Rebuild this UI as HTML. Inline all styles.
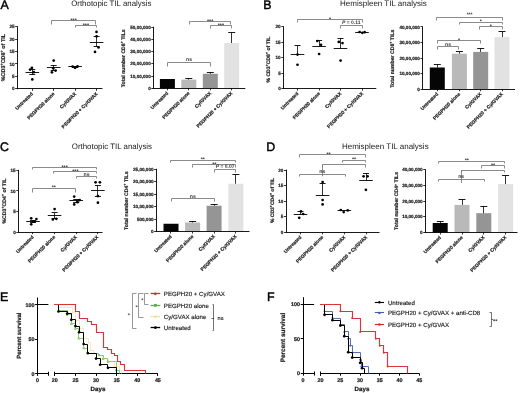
<!DOCTYPE html>
<html><head><meta charset="utf-8"><title>Figure</title>
<style>
html,body{margin:0;padding:0;background:#fff;}
svg{display:block;font-family:'Liberation Sans', Arial, sans-serif;text-rendering:geometricPrecision;}
</style></head>
<body>
<svg width="520" height="393" viewBox="0 0 520 393">
<rect width="520" height="393" fill="#fff"/>
<text x="0.55" y="9.45" font-size="12.4" font-weight="normal" text-anchor="start" fill="#000" stroke="#000" stroke-width="0.45">A</text>
<text x="263.30" y="9.30" font-size="12.4" font-weight="normal" text-anchor="start" fill="#000" stroke="#000" stroke-width="0.45">B</text>
<text x="0.00" y="151.00" font-size="12.4" font-weight="normal" text-anchor="start" fill="#000" stroke="#000" stroke-width="0.45">C</text>
<text x="266.20" y="151.10" font-size="12.4" font-weight="normal" text-anchor="start" fill="#000" stroke="#000" stroke-width="0.45">D</text>
<text x="0.00" y="300.80" font-size="12.4" font-weight="normal" text-anchor="start" fill="#000" stroke="#000" stroke-width="0.45">E</text>
<text x="266.90" y="300.80" font-size="12.4" font-weight="normal" text-anchor="start" fill="#000" stroke="#000" stroke-width="0.45">F</text>
<text x="111.30" y="5.90" font-size="7.9" font-weight="normal" text-anchor="middle" fill="#1a1a1a">Orthotopic TIL analysis</text>
<text x="383.40" y="5.90" font-size="8.0" font-weight="normal" text-anchor="middle" fill="#1a1a1a">Hemispleen TIL analysis</text>
<text x="111.90" y="148.90" font-size="7.9" font-weight="normal" text-anchor="middle" fill="#1a1a1a">Orthotopic TIL analysis</text>
<text x="385.30" y="148.70" font-size="8.0" font-weight="normal" text-anchor="middle" fill="#1a1a1a">Hemispleen TIL analysis</text>
<line x1="17.50" y1="26.20" x2="17.50" y2="89.30" stroke="#000" stroke-width="0.9"/>
<line x1="15.10" y1="88.50" x2="17.30" y2="88.50" stroke="#000" stroke-width="0.8"/>
<text x="14.50" y="90.45" font-size="4.6" font-weight="bold" text-anchor="end" fill="#222" stroke="#222" stroke-width="0.2">0</text>
<line x1="15.10" y1="76.50" x2="17.30" y2="76.50" stroke="#000" stroke-width="0.8"/>
<text x="14.50" y="78.00" font-size="4.6" font-weight="bold" text-anchor="end" fill="#222" stroke="#222" stroke-width="0.2">5</text>
<line x1="15.10" y1="63.50" x2="17.30" y2="63.50" stroke="#000" stroke-width="0.8"/>
<text x="14.50" y="65.55" font-size="4.6" font-weight="bold" text-anchor="end" fill="#222" stroke="#222" stroke-width="0.2">10</text>
<line x1="15.10" y1="51.50" x2="17.30" y2="51.50" stroke="#000" stroke-width="0.8"/>
<text x="14.50" y="53.10" font-size="4.6" font-weight="bold" text-anchor="end" fill="#222" stroke="#222" stroke-width="0.2">15</text>
<line x1="15.10" y1="39.50" x2="17.30" y2="39.50" stroke="#000" stroke-width="0.8"/>
<text x="14.50" y="40.65" font-size="4.6" font-weight="bold" text-anchor="end" fill="#222" stroke="#222" stroke-width="0.2">20</text>
<line x1="15.10" y1="26.50" x2="17.30" y2="26.50" stroke="#000" stroke-width="0.8"/>
<text x="14.50" y="28.20" font-size="4.6" font-weight="bold" text-anchor="end" fill="#222" stroke="#222" stroke-width="0.2">25</text>
<line x1="16.85" y1="88.50" x2="102.50" y2="88.50" stroke="#000" stroke-width="0.9"/>
<line x1="32.50" y1="88.85" x2="32.50" y2="90.85" stroke="#000" stroke-width="0.8"/>
<line x1="53.50" y1="88.85" x2="53.50" y2="90.85" stroke="#000" stroke-width="0.8"/>
<line x1="75.50" y1="88.85" x2="75.50" y2="90.85" stroke="#000" stroke-width="0.8"/>
<line x1="96.50" y1="88.85" x2="96.50" y2="90.85" stroke="#000" stroke-width="0.8"/>
<text x="33.30" y="94.15" font-size="4.85" font-weight="bold" text-anchor="end" fill="#222" transform="rotate(-45 33.30 94.15)" stroke="#222" stroke-width="0.2">Untreated</text>
<text x="55.00" y="94.15" font-size="4.85" font-weight="bold" text-anchor="end" fill="#222" transform="rotate(-45 55.00 94.15)" stroke="#222" stroke-width="0.2">PEGPH20 alone</text>
<text x="76.60" y="94.15" font-size="4.85" font-weight="bold" text-anchor="end" fill="#222" transform="rotate(-45 76.60 94.15)" stroke="#222" stroke-width="0.2">Cy/GVAX</text>
<text x="98.10" y="94.15" font-size="4.85" font-weight="bold" text-anchor="end" fill="#222" transform="rotate(-45 98.10 94.15)" stroke="#222" stroke-width="0.2">PEGPH20 + Cy/GVAX</text>
<text x="4.80" y="57.60" font-size="5.45" font-weight="bold" text-anchor="middle" fill="#222" stroke="#222" stroke-width="0.2" transform="rotate(-90 4.80 57.60)">%CD3<tspan font-size="3.81" dy="-1.91">+</tspan><tspan dy="1.91">CD8</tspan><tspan font-size="3.81" dy="-1.91">+</tspan><tspan dy="1.91"> of TIL</tspan></text>
<circle cx="30.10" cy="69.60" r="1.35" fill="#000"/>
<circle cx="31.90" cy="67.80" r="1.35" fill="#000"/>
<circle cx="33.80" cy="72.20" r="1.35" fill="#000"/>
<circle cx="32.30" cy="79.40" r="1.35" fill="#000"/>
<line x1="25.50" y1="72.50" x2="39.10" y2="72.50" stroke="#000" stroke-width="0.9"/>
<line x1="32.50" y1="69.40" x2="32.50" y2="72.10" stroke="#000" stroke-width="0.8"/>
<line x1="29.30" y1="69.50" x2="35.30" y2="69.50" stroke="#000" stroke-width="0.9"/>
<line x1="32.50" y1="72.10" x2="32.50" y2="75.00" stroke="#000" stroke-width="0.8"/>
<line x1="29.30" y1="74.50" x2="35.30" y2="74.50" stroke="#000" stroke-width="0.9"/>
<circle cx="53.70" cy="60.60" r="1.35" fill="#000"/>
<circle cx="53.20" cy="68.20" r="1.35" fill="#000"/>
<circle cx="51.90" cy="72.30" r="1.35" fill="#000"/>
<circle cx="55.60" cy="70.60" r="1.35" fill="#000"/>
<line x1="46.90" y1="67.50" x2="60.50" y2="67.50" stroke="#000" stroke-width="0.9"/>
<line x1="53.50" y1="65.30" x2="53.50" y2="67.90" stroke="#000" stroke-width="0.8"/>
<line x1="50.70" y1="65.50" x2="56.70" y2="65.50" stroke="#000" stroke-width="0.9"/>
<line x1="53.50" y1="67.90" x2="53.50" y2="70.60" stroke="#000" stroke-width="0.8"/>
<line x1="50.70" y1="70.50" x2="56.70" y2="70.50" stroke="#000" stroke-width="0.9"/>
<circle cx="72.60" cy="66.60" r="1.35" fill="#000"/>
<circle cx="75.10" cy="67.80" r="1.35" fill="#000"/>
<circle cx="77.50" cy="66.40" r="1.35" fill="#000"/>
<line x1="68.30" y1="66.50" x2="81.90" y2="66.50" stroke="#000" stroke-width="0.9"/>
<line x1="75.50" y1="66.00" x2="75.50" y2="66.90" stroke="#000" stroke-width="0.8"/>
<line x1="72.10" y1="66.50" x2="78.10" y2="66.50" stroke="#000" stroke-width="0.9"/>
<line x1="75.50" y1="66.90" x2="75.50" y2="67.80" stroke="#000" stroke-width="0.8"/>
<line x1="72.10" y1="67.50" x2="78.10" y2="67.50" stroke="#000" stroke-width="0.9"/>
<circle cx="96.50" cy="31.90" r="1.35" fill="#000"/>
<circle cx="96.60" cy="36.30" r="1.35" fill="#000"/>
<circle cx="98.50" cy="47.50" r="1.35" fill="#000"/>
<circle cx="95.00" cy="51.90" r="1.35" fill="#000"/>
<line x1="89.80" y1="42.50" x2="103.40" y2="42.50" stroke="#000" stroke-width="0.9"/>
<line x1="96.50" y1="36.90" x2="96.50" y2="42.10" stroke="#000" stroke-width="0.8"/>
<line x1="93.60" y1="36.50" x2="99.60" y2="36.50" stroke="#000" stroke-width="0.9"/>
<line x1="96.50" y1="42.10" x2="96.50" y2="46.90" stroke="#000" stroke-width="0.8"/>
<line x1="93.60" y1="46.50" x2="99.60" y2="46.50" stroke="#000" stroke-width="0.9"/>
<polyline points="51.50,24.50 51.50,20.50 95.50,20.50 95.50,24.50" fill="none" stroke="#767676" stroke-width="0.85"/>
<text x="73.60" y="22.10" font-size="5.4" font-weight="bold" text-anchor="middle" fill="#3a3a3a">***</text>
<polyline points="75.50,27.50 75.50,25.50 96.50,25.50 96.50,27.50" fill="none" stroke="#767676" stroke-width="0.85"/>
<text x="85.85" y="26.50" font-size="5.4" font-weight="bold" text-anchor="middle" fill="#3a3a3a">***</text>
<rect x="159.90" y="79.00" width="15.00" height="9.30" fill="#050505"/>
<rect x="181.30" y="79.60" width="15.00" height="8.70" fill="#b9b9b9"/>
<line x1="188.50" y1="78.10" x2="188.50" y2="79.60" stroke="#000" stroke-width="0.8"/>
<line x1="185.30" y1="78.50" x2="192.30" y2="78.50" stroke="#000" stroke-width="0.9"/>
<rect x="202.80" y="73.75" width="15.00" height="14.55" fill="#959595"/>
<line x1="210.50" y1="72.10" x2="210.50" y2="73.75" stroke="#000" stroke-width="0.8"/>
<line x1="206.80" y1="72.50" x2="213.80" y2="72.50" stroke="#000" stroke-width="0.9"/>
<rect x="224.20" y="43.00" width="15.00" height="45.30" fill="#e2e2e2"/>
<line x1="231.50" y1="32.90" x2="231.50" y2="43.00" stroke="#000" stroke-width="0.8"/>
<line x1="228.20" y1="32.50" x2="235.20" y2="32.50" stroke="#000" stroke-width="0.9"/>
<line x1="153.50" y1="26.75" x2="153.50" y2="88.75" stroke="#000" stroke-width="0.9"/>
<line x1="151.30" y1="88.50" x2="153.50" y2="88.50" stroke="#000" stroke-width="0.8"/>
<text x="150.70" y="89.90" font-size="4.6" font-weight="bold" text-anchor="end" fill="#222" stroke="#222" stroke-width="0.2">0</text>
<line x1="151.30" y1="76.50" x2="153.50" y2="76.50" stroke="#000" stroke-width="0.8"/>
<text x="150.70" y="77.67" font-size="4.6" font-weight="bold" text-anchor="end" fill="#222" stroke="#222" stroke-width="0.2">10,00,000</text>
<line x1="151.30" y1="63.50" x2="153.50" y2="63.50" stroke="#000" stroke-width="0.8"/>
<text x="150.70" y="65.44" font-size="4.6" font-weight="bold" text-anchor="end" fill="#222" stroke="#222" stroke-width="0.2">20,00,000</text>
<line x1="151.30" y1="51.50" x2="153.50" y2="51.50" stroke="#000" stroke-width="0.8"/>
<text x="150.70" y="53.21" font-size="4.6" font-weight="bold" text-anchor="end" fill="#222" stroke="#222" stroke-width="0.2">30,00,000</text>
<line x1="151.30" y1="39.50" x2="153.50" y2="39.50" stroke="#000" stroke-width="0.8"/>
<text x="150.70" y="40.98" font-size="4.6" font-weight="bold" text-anchor="end" fill="#222" stroke="#222" stroke-width="0.2">40,00,000</text>
<line x1="151.30" y1="27.50" x2="153.50" y2="27.50" stroke="#000" stroke-width="0.8"/>
<text x="150.70" y="28.75" font-size="4.6" font-weight="bold" text-anchor="end" fill="#222" stroke="#222" stroke-width="0.2">50,00,000</text>
<line x1="153.05" y1="88.50" x2="245.30" y2="88.50" stroke="#000" stroke-width="0.9"/>
<line x1="167.50" y1="88.30" x2="167.50" y2="90.30" stroke="#000" stroke-width="0.8"/>
<line x1="188.50" y1="88.30" x2="188.50" y2="90.30" stroke="#000" stroke-width="0.8"/>
<line x1="210.50" y1="88.30" x2="210.50" y2="90.30" stroke="#000" stroke-width="0.8"/>
<line x1="231.50" y1="88.30" x2="231.50" y2="90.30" stroke="#000" stroke-width="0.8"/>
<text x="168.60" y="93.60" font-size="4.85" font-weight="bold" text-anchor="end" fill="#222" transform="rotate(-45 168.60 93.60)" stroke="#222" stroke-width="0.2">Untreated</text>
<text x="190.00" y="93.60" font-size="4.85" font-weight="bold" text-anchor="end" fill="#222" transform="rotate(-45 190.00 93.60)" stroke="#222" stroke-width="0.2">PEGPH20 alone</text>
<text x="211.50" y="93.60" font-size="4.85" font-weight="bold" text-anchor="end" fill="#222" transform="rotate(-45 211.50 93.60)" stroke="#222" stroke-width="0.2">Cy/GVAX</text>
<text x="232.90" y="93.60" font-size="4.85" font-weight="bold" text-anchor="end" fill="#222" transform="rotate(-45 232.90 93.60)" stroke="#222" stroke-width="0.2">PEGPH20 + Cy/GVAX</text>
<text x="125.30" y="58.20" font-size="5.13" font-weight="bold" text-anchor="middle" fill="#222" stroke="#222" stroke-width="0.2" transform="rotate(-90 125.30 58.20)">Total number CD8<tspan font-size="3.59" dy="-1.80">+</tspan><tspan dy="1.80"> TILs</tspan></text>
<polyline points="167.50,66.50 167.50,62.50 210.50,62.50 210.50,66.50" fill="none" stroke="#767676" stroke-width="0.85"/>
<text x="189.05" y="61.20" font-size="5.2" font-weight="bold" text-anchor="middle" fill="#3a3a3a">ns</text>
<polyline points="189.50,24.50 189.50,21.50 230.50,21.50 230.50,24.50" fill="none" stroke="#767676" stroke-width="0.85"/>
<text x="210.10" y="22.50" font-size="5.4" font-weight="bold" text-anchor="middle" fill="#3a3a3a">***</text>
<polyline points="210.50,28.50 210.50,25.50 231.50,25.50 231.50,28.50" fill="none" stroke="#767676" stroke-width="0.85"/>
<text x="220.90" y="26.70" font-size="5.4" font-weight="bold" text-anchor="middle" fill="#3a3a3a">***</text>
<line x1="283.50" y1="26.20" x2="283.50" y2="89.05" stroke="#000" stroke-width="0.9"/>
<line x1="281.30" y1="88.50" x2="283.50" y2="88.50" stroke="#000" stroke-width="0.8"/>
<text x="280.70" y="90.20" font-size="4.6" font-weight="bold" text-anchor="end" fill="#222" stroke="#222" stroke-width="0.2">0</text>
<line x1="281.30" y1="73.50" x2="283.50" y2="73.50" stroke="#000" stroke-width="0.8"/>
<text x="280.70" y="74.70" font-size="4.6" font-weight="bold" text-anchor="end" fill="#222" stroke="#222" stroke-width="0.2">5</text>
<line x1="281.30" y1="57.50" x2="283.50" y2="57.50" stroke="#000" stroke-width="0.8"/>
<text x="280.70" y="59.20" font-size="4.6" font-weight="bold" text-anchor="end" fill="#222" stroke="#222" stroke-width="0.2">10</text>
<line x1="281.30" y1="42.50" x2="283.50" y2="42.50" stroke="#000" stroke-width="0.8"/>
<text x="280.70" y="43.70" font-size="4.6" font-weight="bold" text-anchor="end" fill="#222" stroke="#222" stroke-width="0.2">15</text>
<line x1="281.30" y1="26.50" x2="283.50" y2="26.50" stroke="#000" stroke-width="0.8"/>
<text x="280.70" y="28.20" font-size="4.6" font-weight="bold" text-anchor="end" fill="#222" stroke="#222" stroke-width="0.2">20</text>
<line x1="283.05" y1="88.50" x2="376.30" y2="88.50" stroke="#000" stroke-width="0.9"/>
<line x1="297.50" y1="88.60" x2="297.50" y2="90.60" stroke="#000" stroke-width="0.8"/>
<line x1="319.50" y1="88.60" x2="319.50" y2="90.60" stroke="#000" stroke-width="0.8"/>
<line x1="340.50" y1="88.60" x2="340.50" y2="90.60" stroke="#000" stroke-width="0.8"/>
<line x1="362.50" y1="88.60" x2="362.50" y2="90.60" stroke="#000" stroke-width="0.8"/>
<text x="298.80" y="93.90" font-size="4.85" font-weight="bold" text-anchor="end" fill="#222" transform="rotate(-45 298.80 93.90)" stroke="#222" stroke-width="0.2">Untreated</text>
<text x="320.40" y="93.90" font-size="4.85" font-weight="bold" text-anchor="end" fill="#222" transform="rotate(-45 320.40 93.90)" stroke="#222" stroke-width="0.2">PEGPH20 alone</text>
<text x="341.80" y="93.90" font-size="4.85" font-weight="bold" text-anchor="end" fill="#222" transform="rotate(-45 341.80 93.90)" stroke="#222" stroke-width="0.2">Cy/GVAX</text>
<text x="363.60" y="93.90" font-size="4.85" font-weight="bold" text-anchor="end" fill="#222" transform="rotate(-45 363.60 93.90)" stroke="#222" stroke-width="0.2">PEGPH20 + Cy/GVAX</text>
<text x="270.10" y="59.60" font-size="5.1" font-weight="bold" text-anchor="middle" fill="#222" stroke="#222" stroke-width="0.2" transform="rotate(-90 270.10 59.60)">% CD3<tspan font-size="3.57" dy="-1.78">+</tspan><tspan dy="1.78">CD8</tspan><tspan font-size="3.57" dy="-1.78">+</tspan><tspan dy="1.78"> of TIL</tspan></text>
<circle cx="297.50" cy="54.60" r="1.35" fill="#000"/>
<circle cx="297.50" cy="64.75" r="1.35" fill="#000"/>
<line x1="290.70" y1="54.50" x2="304.30" y2="54.50" stroke="#000" stroke-width="0.9"/>
<line x1="297.50" y1="45.60" x2="297.50" y2="55.00" stroke="#000" stroke-width="0.8"/>
<line x1="294.50" y1="45.50" x2="300.50" y2="45.50" stroke="#000" stroke-width="0.9"/>
<circle cx="317.30" cy="41.00" r="1.35" fill="#000"/>
<circle cx="321.00" cy="44.80" r="1.35" fill="#000"/>
<circle cx="319.10" cy="54.00" r="1.35" fill="#000"/>
<line x1="312.30" y1="46.50" x2="325.90" y2="46.50" stroke="#000" stroke-width="0.9"/>
<line x1="319.50" y1="40.25" x2="319.50" y2="46.50" stroke="#000" stroke-width="0.8"/>
<line x1="316.10" y1="40.50" x2="322.10" y2="40.50" stroke="#000" stroke-width="0.9"/>
<circle cx="338.80" cy="41.90" r="1.35" fill="#000"/>
<circle cx="342.50" cy="43.10" r="1.35" fill="#000"/>
<circle cx="340.60" cy="60.60" r="1.35" fill="#000"/>
<line x1="333.70" y1="48.50" x2="347.30" y2="48.50" stroke="#000" stroke-width="0.9"/>
<line x1="340.50" y1="38.10" x2="340.50" y2="48.50" stroke="#000" stroke-width="0.8"/>
<line x1="337.50" y1="38.50" x2="343.50" y2="38.50" stroke="#000" stroke-width="0.9"/>
<circle cx="359.60" cy="32.00" r="1.35" fill="#000"/>
<circle cx="362.30" cy="32.80" r="1.35" fill="#000"/>
<circle cx="364.60" cy="32.20" r="1.35" fill="#000"/>
<line x1="355.20" y1="32.50" x2="368.80" y2="32.50" stroke="#000" stroke-width="0.9"/>
<polyline points="297.50,22.50 297.50,19.50 362.50,19.50 362.50,22.50" fill="none" stroke="#767676" stroke-width="0.85"/>
<text x="330.00" y="20.60" font-size="5.4" font-weight="bold" text-anchor="middle" fill="#3a3a3a">*</text>
<polyline points="340.50,28.50 340.50,25.50 362.50,25.50 362.50,28.50" fill="none" stroke="#767676" stroke-width="0.85"/>
<text x="351.25" y="23.90" font-size="5.0" font-weight="bold" text-anchor="middle" fill="#3a3a3a"><tspan font-style="italic">P</tspan> = 0.11</text>
<rect x="429.80" y="67.50" width="15.00" height="21.70" fill="#050505"/>
<line x1="437.50" y1="64.40" x2="437.50" y2="67.50" stroke="#000" stroke-width="0.8"/>
<line x1="433.80" y1="64.50" x2="440.80" y2="64.50" stroke="#000" stroke-width="0.9"/>
<rect x="451.90" y="53.70" width="15.00" height="35.50" fill="#b9b9b9"/>
<line x1="459.50" y1="51.90" x2="459.50" y2="53.70" stroke="#000" stroke-width="0.8"/>
<line x1="455.90" y1="51.50" x2="462.90" y2="51.50" stroke="#000" stroke-width="0.9"/>
<rect x="473.20" y="51.90" width="15.00" height="37.30" fill="#959595"/>
<line x1="480.50" y1="48.80" x2="480.50" y2="51.90" stroke="#000" stroke-width="0.8"/>
<line x1="477.20" y1="48.50" x2="484.20" y2="48.50" stroke="#000" stroke-width="0.9"/>
<rect x="494.50" y="37.10" width="15.00" height="52.10" fill="#e2e2e2"/>
<line x1="502.50" y1="31.90" x2="502.50" y2="37.10" stroke="#000" stroke-width="0.8"/>
<line x1="498.50" y1="31.50" x2="505.50" y2="31.50" stroke="#000" stroke-width="0.9"/>
<line x1="422.50" y1="26.50" x2="422.50" y2="89.65" stroke="#000" stroke-width="0.9"/>
<line x1="420.50" y1="89.50" x2="422.70" y2="89.50" stroke="#000" stroke-width="0.8"/>
<text x="419.90" y="90.80" font-size="4.6" font-weight="bold" text-anchor="end" fill="#222" stroke="#222" stroke-width="0.2">0</text>
<line x1="420.50" y1="73.50" x2="422.70" y2="73.50" stroke="#000" stroke-width="0.8"/>
<text x="419.90" y="75.22" font-size="4.6" font-weight="bold" text-anchor="end" fill="#222" stroke="#222" stroke-width="0.2">10,00,000</text>
<line x1="420.50" y1="58.50" x2="422.70" y2="58.50" stroke="#000" stroke-width="0.8"/>
<text x="419.90" y="59.65" font-size="4.6" font-weight="bold" text-anchor="end" fill="#222" stroke="#222" stroke-width="0.2">20,00,000</text>
<line x1="420.50" y1="42.50" x2="422.70" y2="42.50" stroke="#000" stroke-width="0.8"/>
<text x="419.90" y="44.08" font-size="4.6" font-weight="bold" text-anchor="end" fill="#222" stroke="#222" stroke-width="0.2">30,00,000</text>
<line x1="420.50" y1="26.50" x2="422.70" y2="26.50" stroke="#000" stroke-width="0.8"/>
<text x="419.90" y="28.50" font-size="4.6" font-weight="bold" text-anchor="end" fill="#222" stroke="#222" stroke-width="0.2">40,00,000</text>
<line x1="422.25" y1="89.50" x2="515.00" y2="89.50" stroke="#000" stroke-width="0.9"/>
<line x1="437.50" y1="89.20" x2="437.50" y2="91.20" stroke="#000" stroke-width="0.8"/>
<line x1="459.50" y1="89.20" x2="459.50" y2="91.20" stroke="#000" stroke-width="0.8"/>
<line x1="480.50" y1="89.20" x2="480.50" y2="91.20" stroke="#000" stroke-width="0.8"/>
<line x1="502.50" y1="89.20" x2="502.50" y2="91.20" stroke="#000" stroke-width="0.8"/>
<text x="438.50" y="94.50" font-size="4.85" font-weight="bold" text-anchor="end" fill="#222" transform="rotate(-45 438.50 94.50)" stroke="#222" stroke-width="0.2">Untreated</text>
<text x="460.60" y="94.50" font-size="4.85" font-weight="bold" text-anchor="end" fill="#222" transform="rotate(-45 460.60 94.50)" stroke="#222" stroke-width="0.2">PEGPH20 alone</text>
<text x="481.90" y="94.50" font-size="4.85" font-weight="bold" text-anchor="end" fill="#222" transform="rotate(-45 481.90 94.50)" stroke="#222" stroke-width="0.2">Cy/GVAX</text>
<text x="503.20" y="94.50" font-size="4.85" font-weight="bold" text-anchor="end" fill="#222" transform="rotate(-45 503.20 94.50)" stroke="#222" stroke-width="0.2">PEGPH20 + Cy/GVAX</text>
<text x="393.60" y="58.60" font-size="5.17" font-weight="bold" text-anchor="middle" fill="#222" stroke="#222" stroke-width="0.2" transform="rotate(-90 393.60 58.60)">Total number CD8<tspan font-size="3.62" dy="-1.81">+</tspan><tspan dy="1.81"> TILs</tspan></text>
<polyline points="436.50,20.50 436.50,17.50 502.50,17.50 502.50,20.50" fill="none" stroke="#767676" stroke-width="0.85"/>
<text x="469.60" y="16.20" font-size="5.0" font-weight="bold" text-anchor="middle" fill="#3a3a3a">***</text>
<polyline points="459.50,24.50 459.50,22.50 502.50,22.50 502.50,24.50" fill="none" stroke="#767676" stroke-width="0.85"/>
<text x="480.75" y="23.10" font-size="5.4" font-weight="bold" text-anchor="middle" fill="#3a3a3a">*</text>
<polyline points="479.50,29.50 479.50,26.50 502.50,26.50 502.50,29.50" fill="none" stroke="#767676" stroke-width="0.85"/>
<text x="490.75" y="28.00" font-size="5.4" font-weight="bold" text-anchor="middle" fill="#3a3a3a">*</text>
<polyline points="437.50,43.50 437.50,40.50 480.50,40.50 480.50,43.50" fill="none" stroke="#767676" stroke-width="0.85"/>
<text x="459.10" y="41.60" font-size="5.4" font-weight="bold" text-anchor="middle" fill="#3a3a3a">*</text>
<polyline points="437.50,49.50 437.50,46.50 458.50,46.50 458.50,49.50" fill="none" stroke="#767676" stroke-width="0.85"/>
<text x="448.15" y="45.70" font-size="5.2" font-weight="bold" text-anchor="middle" fill="#3a3a3a">ns</text>
<line x1="18.50" y1="169.90" x2="18.50" y2="232.55" stroke="#000" stroke-width="0.9"/>
<line x1="16.30" y1="232.50" x2="18.50" y2="232.50" stroke="#000" stroke-width="0.8"/>
<text x="15.70" y="233.70" font-size="4.6" font-weight="bold" text-anchor="end" fill="#222" stroke="#222" stroke-width="0.2">0</text>
<line x1="16.30" y1="211.50" x2="18.50" y2="211.50" stroke="#000" stroke-width="0.8"/>
<text x="15.70" y="213.10" font-size="4.6" font-weight="bold" text-anchor="end" fill="#222" stroke="#222" stroke-width="0.2">5</text>
<line x1="16.30" y1="190.50" x2="18.50" y2="190.50" stroke="#000" stroke-width="0.8"/>
<text x="15.70" y="192.50" font-size="4.6" font-weight="bold" text-anchor="end" fill="#222" stroke="#222" stroke-width="0.2">10</text>
<line x1="16.30" y1="170.50" x2="18.50" y2="170.50" stroke="#000" stroke-width="0.8"/>
<text x="15.70" y="171.90" font-size="4.6" font-weight="bold" text-anchor="end" fill="#222" stroke="#222" stroke-width="0.2">15</text>
<line x1="18.05" y1="232.50" x2="102.50" y2="232.50" stroke="#000" stroke-width="0.9"/>
<line x1="32.50" y1="232.10" x2="32.50" y2="234.10" stroke="#000" stroke-width="0.8"/>
<line x1="54.50" y1="232.10" x2="54.50" y2="234.10" stroke="#000" stroke-width="0.8"/>
<line x1="76.50" y1="232.10" x2="76.50" y2="234.10" stroke="#000" stroke-width="0.8"/>
<line x1="97.50" y1="232.10" x2="97.50" y2="234.10" stroke="#000" stroke-width="0.8"/>
<text x="34.00" y="237.40" font-size="4.85" font-weight="bold" text-anchor="end" fill="#222" transform="rotate(-45 34.00 237.40)" stroke="#222" stroke-width="0.2">Untreated</text>
<text x="55.60" y="237.40" font-size="4.85" font-weight="bold" text-anchor="end" fill="#222" transform="rotate(-45 55.60 237.40)" stroke="#222" stroke-width="0.2">PEGPH20 alone</text>
<text x="77.20" y="237.40" font-size="4.85" font-weight="bold" text-anchor="end" fill="#222" transform="rotate(-45 77.20 237.40)" stroke="#222" stroke-width="0.2">Cy/GVAX</text>
<text x="98.80" y="237.40" font-size="4.85" font-weight="bold" text-anchor="end" fill="#222" transform="rotate(-45 98.80 237.40)" stroke="#222" stroke-width="0.2">PEGPH20 + Cy/GVAX</text>
<text x="5.70" y="201.00" font-size="5.2" font-weight="bold" text-anchor="middle" fill="#222" stroke="#222" stroke-width="0.2" transform="rotate(-90 5.70 201.00)">%CD3<tspan font-size="3.64" dy="-1.82">+</tspan><tspan dy="1.82">CD4</tspan><tspan font-size="3.64" dy="-1.82">+</tspan><tspan dy="1.82"> of TIL</tspan></text>
<circle cx="31.20" cy="218.30" r="1.35" fill="#000"/>
<circle cx="36.40" cy="219.10" r="1.35" fill="#000"/>
<circle cx="31.20" cy="224.30" r="1.35" fill="#000"/>
<circle cx="33.80" cy="221.70" r="1.35" fill="#000"/>
<line x1="26.20" y1="221.50" x2="39.80" y2="221.50" stroke="#000" stroke-width="0.9"/>
<line x1="32.50" y1="220.00" x2="32.50" y2="221.40" stroke="#000" stroke-width="0.8"/>
<line x1="30.00" y1="220.50" x2="36.00" y2="220.50" stroke="#000" stroke-width="0.9"/>
<line x1="32.50" y1="221.40" x2="32.50" y2="223.00" stroke="#000" stroke-width="0.8"/>
<line x1="30.00" y1="222.50" x2="36.00" y2="222.50" stroke="#000" stroke-width="0.9"/>
<circle cx="54.60" cy="209.10" r="1.35" fill="#000"/>
<circle cx="52.90" cy="219.50" r="1.35" fill="#000"/>
<circle cx="56.30" cy="218.80" r="1.35" fill="#000"/>
<line x1="47.80" y1="215.50" x2="61.40" y2="215.50" stroke="#000" stroke-width="0.9"/>
<line x1="54.50" y1="213.00" x2="54.50" y2="215.70" stroke="#000" stroke-width="0.8"/>
<line x1="51.60" y1="212.50" x2="57.60" y2="212.50" stroke="#000" stroke-width="0.9"/>
<line x1="54.50" y1="215.70" x2="54.50" y2="218.50" stroke="#000" stroke-width="0.8"/>
<line x1="51.60" y1="218.50" x2="57.60" y2="218.50" stroke="#000" stroke-width="0.9"/>
<circle cx="74.20" cy="196.60" r="1.35" fill="#000"/>
<circle cx="77.60" cy="202.20" r="1.35" fill="#000"/>
<circle cx="74.20" cy="204.40" r="1.35" fill="#000"/>
<circle cx="79.70" cy="200.10" r="1.35" fill="#000"/>
<line x1="69.40" y1="200.50" x2="83.00" y2="200.50" stroke="#000" stroke-width="0.9"/>
<line x1="76.50" y1="199.50" x2="76.50" y2="201.00" stroke="#000" stroke-width="0.8"/>
<line x1="73.20" y1="199.50" x2="79.20" y2="199.50" stroke="#000" stroke-width="0.9"/>
<line x1="76.50" y1="201.00" x2="76.50" y2="202.60" stroke="#000" stroke-width="0.8"/>
<line x1="73.20" y1="202.50" x2="79.20" y2="202.50" stroke="#000" stroke-width="0.9"/>
<circle cx="95.60" cy="182.30" r="1.35" fill="#000"/>
<circle cx="99.90" cy="182.30" r="1.35" fill="#000"/>
<circle cx="97.90" cy="196.10" r="1.35" fill="#000"/>
<circle cx="97.90" cy="202.70" r="1.35" fill="#000"/>
<line x1="91.10" y1="190.50" x2="104.70" y2="190.50" stroke="#000" stroke-width="0.9"/>
<line x1="97.50" y1="185.70" x2="97.50" y2="190.90" stroke="#000" stroke-width="0.8"/>
<line x1="94.90" y1="185.50" x2="100.90" y2="185.50" stroke="#000" stroke-width="0.9"/>
<line x1="97.50" y1="190.90" x2="97.50" y2="196.10" stroke="#000" stroke-width="0.8"/>
<line x1="94.90" y1="196.50" x2="100.90" y2="196.50" stroke="#000" stroke-width="0.9"/>
<polyline points="32.50,169.50 32.50,167.50 96.50,167.50 96.50,169.50" fill="none" stroke="#767676" stroke-width="0.85"/>
<text x="64.65" y="168.50" font-size="5.4" font-weight="bold" text-anchor="middle" fill="#3a3a3a">***</text>
<polyline points="53.50,173.50 53.50,171.50 96.50,171.50 96.50,173.50" fill="none" stroke="#767676" stroke-width="0.85"/>
<text x="75.38" y="172.80" font-size="5.4" font-weight="bold" text-anchor="middle" fill="#3a3a3a">***</text>
<polyline points="76.50,178.50 76.50,176.50 96.50,176.50 96.50,178.50" fill="none" stroke="#767676" stroke-width="0.85"/>
<text x="86.62" y="175.60" font-size="5.2" font-weight="bold" text-anchor="middle" fill="#3a3a3a">ns</text>
<polyline points="32.50,192.50 32.50,188.50 75.50,188.50 75.50,192.50" fill="none" stroke="#767676" stroke-width="0.85"/>
<text x="53.75" y="189.10" font-size="5.4" font-weight="bold" text-anchor="middle" fill="#3a3a3a">**</text>
<rect x="163.50" y="223.75" width="15.00" height="7.75" fill="#050505"/>
<rect x="185.10" y="222.50" width="15.00" height="9.00" fill="#b9b9b9"/>
<line x1="192.50" y1="221.25" x2="192.50" y2="222.50" stroke="#000" stroke-width="0.8"/>
<line x1="189.10" y1="221.50" x2="196.10" y2="221.50" stroke="#000" stroke-width="0.9"/>
<rect x="206.60" y="205.75" width="15.00" height="25.75" fill="#959595"/>
<line x1="214.50" y1="204.25" x2="214.50" y2="205.75" stroke="#000" stroke-width="0.8"/>
<line x1="210.60" y1="204.50" x2="217.60" y2="204.50" stroke="#000" stroke-width="0.9"/>
<rect x="228.40" y="183.75" width="15.00" height="47.75" fill="#e2e2e2"/>
<line x1="235.50" y1="174.40" x2="235.50" y2="183.75" stroke="#000" stroke-width="0.8"/>
<line x1="232.40" y1="174.50" x2="239.40" y2="174.50" stroke="#000" stroke-width="0.9"/>
<line x1="156.50" y1="168.80" x2="156.50" y2="231.95" stroke="#000" stroke-width="0.9"/>
<line x1="154.10" y1="231.50" x2="156.30" y2="231.50" stroke="#000" stroke-width="0.8"/>
<text x="153.50" y="233.10" font-size="4.6" font-weight="bold" text-anchor="end" fill="#222" stroke="#222" stroke-width="0.2">0</text>
<line x1="154.10" y1="219.50" x2="156.30" y2="219.50" stroke="#000" stroke-width="0.8"/>
<text x="153.50" y="220.64" font-size="4.6" font-weight="bold" text-anchor="end" fill="#222" stroke="#222" stroke-width="0.2">500,000</text>
<line x1="154.10" y1="206.50" x2="156.30" y2="206.50" stroke="#000" stroke-width="0.8"/>
<text x="153.50" y="208.18" font-size="4.6" font-weight="bold" text-anchor="end" fill="#222" stroke="#222" stroke-width="0.2">10,00,000</text>
<line x1="154.10" y1="194.50" x2="156.30" y2="194.50" stroke="#000" stroke-width="0.8"/>
<text x="153.50" y="195.72" font-size="4.6" font-weight="bold" text-anchor="end" fill="#222" stroke="#222" stroke-width="0.2">15,00,000</text>
<line x1="154.10" y1="181.50" x2="156.30" y2="181.50" stroke="#000" stroke-width="0.8"/>
<text x="153.50" y="183.26" font-size="4.6" font-weight="bold" text-anchor="end" fill="#222" stroke="#222" stroke-width="0.2">20,00,000</text>
<line x1="154.10" y1="169.50" x2="156.30" y2="169.50" stroke="#000" stroke-width="0.8"/>
<text x="153.50" y="170.80" font-size="4.6" font-weight="bold" text-anchor="end" fill="#222" stroke="#222" stroke-width="0.2">25,00,000</text>
<line x1="155.85" y1="231.50" x2="249.50" y2="231.50" stroke="#000" stroke-width="0.9"/>
<line x1="170.50" y1="231.50" x2="170.50" y2="233.50" stroke="#000" stroke-width="0.8"/>
<line x1="192.50" y1="231.50" x2="192.50" y2="233.50" stroke="#000" stroke-width="0.8"/>
<line x1="214.50" y1="231.50" x2="214.50" y2="233.50" stroke="#000" stroke-width="0.8"/>
<line x1="235.50" y1="231.50" x2="235.50" y2="233.50" stroke="#000" stroke-width="0.8"/>
<text x="172.20" y="236.80" font-size="4.85" font-weight="bold" text-anchor="end" fill="#222" transform="rotate(-45 172.20 236.80)" stroke="#222" stroke-width="0.2">Untreated</text>
<text x="193.80" y="236.80" font-size="4.85" font-weight="bold" text-anchor="end" fill="#222" transform="rotate(-45 193.80 236.80)" stroke="#222" stroke-width="0.2">PEGPH20 alone</text>
<text x="215.30" y="236.80" font-size="4.85" font-weight="bold" text-anchor="end" fill="#222" transform="rotate(-45 215.30 236.80)" stroke="#222" stroke-width="0.2">Cy/GVAX</text>
<text x="237.10" y="236.80" font-size="4.85" font-weight="bold" text-anchor="end" fill="#222" transform="rotate(-45 237.10 236.80)" stroke="#222" stroke-width="0.2">PEGPH20 + Cy/GVAX</text>
<text x="128.30" y="200.70" font-size="5.2" font-weight="bold" text-anchor="middle" fill="#222" stroke="#222" stroke-width="0.2" transform="rotate(-90 128.30 200.70)">Total number CD4<tspan font-size="3.64" dy="-1.82">+</tspan><tspan dy="1.82"> TILs</tspan></text>
<polyline points="170.50,162.50 170.50,160.50 235.50,160.50 235.50,162.50" fill="none" stroke="#767676" stroke-width="0.85"/>
<text x="202.80" y="161.20" font-size="5.4" font-weight="bold" text-anchor="middle" fill="#3a3a3a">**</text>
<polyline points="192.50,167.50 192.50,164.50 235.50,164.50 235.50,167.50" fill="none" stroke="#767676" stroke-width="0.85"/>
<text x="214.25" y="165.80" font-size="5.4" font-weight="bold" text-anchor="middle" fill="#3a3a3a">**</text>
<polyline points="214.50,172.50 214.50,169.50 235.50,169.50 235.50,172.50" fill="none" stroke="#767676" stroke-width="0.85"/>
<text x="225.10" y="168.00" font-size="5.0" font-weight="bold" text-anchor="middle" fill="#3a3a3a"><tspan font-style="italic">P</tspan> = 0.07</text>
<polyline points="171.50,201.50 171.50,198.50 214.50,198.50 214.50,201.50" fill="none" stroke="#767676" stroke-width="0.85"/>
<text x="192.90" y="198.10" font-size="5.2" font-weight="bold" text-anchor="middle" fill="#3a3a3a">ns</text>
<line x1="286.50" y1="169.60" x2="286.50" y2="232.75" stroke="#000" stroke-width="0.9"/>
<line x1="284.00" y1="232.50" x2="286.20" y2="232.50" stroke="#000" stroke-width="0.8"/>
<text x="283.40" y="233.90" font-size="4.6" font-weight="bold" text-anchor="end" fill="#222" stroke="#222" stroke-width="0.2">0</text>
<line x1="284.00" y1="216.50" x2="286.20" y2="216.50" stroke="#000" stroke-width="0.8"/>
<text x="283.40" y="218.33" font-size="4.6" font-weight="bold" text-anchor="end" fill="#222" stroke="#222" stroke-width="0.2">5</text>
<line x1="284.00" y1="201.50" x2="286.20" y2="201.50" stroke="#000" stroke-width="0.8"/>
<text x="283.40" y="202.75" font-size="4.6" font-weight="bold" text-anchor="end" fill="#222" stroke="#222" stroke-width="0.2">10</text>
<line x1="284.00" y1="185.50" x2="286.20" y2="185.50" stroke="#000" stroke-width="0.8"/>
<text x="283.40" y="187.18" font-size="4.6" font-weight="bold" text-anchor="end" fill="#222" stroke="#222" stroke-width="0.2">15</text>
<line x1="284.00" y1="170.50" x2="286.20" y2="170.50" stroke="#000" stroke-width="0.8"/>
<text x="283.40" y="171.60" font-size="4.6" font-weight="bold" text-anchor="end" fill="#222" stroke="#222" stroke-width="0.2">20</text>
<line x1="285.75" y1="232.50" x2="379.50" y2="232.50" stroke="#000" stroke-width="0.9"/>
<line x1="300.50" y1="232.30" x2="300.50" y2="234.30" stroke="#000" stroke-width="0.8"/>
<line x1="322.50" y1="232.30" x2="322.50" y2="234.30" stroke="#000" stroke-width="0.8"/>
<line x1="344.50" y1="232.30" x2="344.50" y2="234.30" stroke="#000" stroke-width="0.8"/>
<line x1="366.50" y1="232.30" x2="366.50" y2="234.30" stroke="#000" stroke-width="0.8"/>
<text x="301.80" y="237.60" font-size="4.85" font-weight="bold" text-anchor="end" fill="#222" transform="rotate(-45 301.80 237.60)" stroke="#222" stroke-width="0.2">Untreated</text>
<text x="323.70" y="237.60" font-size="4.85" font-weight="bold" text-anchor="end" fill="#222" transform="rotate(-45 323.70 237.60)" stroke="#222" stroke-width="0.2">PEGPH20 alone</text>
<text x="345.70" y="237.60" font-size="4.85" font-weight="bold" text-anchor="end" fill="#222" transform="rotate(-45 345.70 237.60)" stroke="#222" stroke-width="0.2">Cy/GVAX</text>
<text x="367.45" y="237.60" font-size="4.85" font-weight="bold" text-anchor="end" fill="#222" transform="rotate(-45 367.45 237.60)" stroke="#222" stroke-width="0.2">PEGPH20 + Cy/GVAX</text>
<text x="273.50" y="200.50" font-size="5.0" font-weight="bold" text-anchor="middle" fill="#222" stroke="#222" stroke-width="0.2" transform="rotate(-90 273.50 200.50)">% CD3<tspan font-size="3.50" dy="-1.75">+</tspan><tspan dy="1.75">CD4</tspan><tspan font-size="3.50" dy="-1.75">+</tspan><tspan dy="1.75"> of TIL</tspan></text>
<circle cx="301.00" cy="211.40" r="1.35" fill="#000"/>
<circle cx="303.20" cy="214.00" r="1.35" fill="#000"/>
<circle cx="299.20" cy="217.80" r="1.35" fill="#000"/>
<line x1="293.70" y1="214.50" x2="307.30" y2="214.50" stroke="#000" stroke-width="0.9"/>
<line x1="300.50" y1="211.40" x2="300.50" y2="214.40" stroke="#000" stroke-width="0.8"/>
<line x1="297.50" y1="211.50" x2="303.50" y2="211.50" stroke="#000" stroke-width="0.9"/>
<circle cx="322.60" cy="182.00" r="1.35" fill="#000"/>
<circle cx="322.60" cy="200.00" r="1.35" fill="#000"/>
<circle cx="322.60" cy="204.40" r="1.35" fill="#000"/>
<line x1="315.80" y1="195.50" x2="329.40" y2="195.50" stroke="#000" stroke-width="0.9"/>
<line x1="322.50" y1="183.25" x2="322.50" y2="195.40" stroke="#000" stroke-width="0.8"/>
<line x1="319.60" y1="183.50" x2="325.60" y2="183.50" stroke="#000" stroke-width="0.9"/>
<circle cx="340.80" cy="210.00" r="1.35" fill="#000"/>
<circle cx="343.70" cy="212.10" r="1.35" fill="#000"/>
<circle cx="347.70" cy="210.40" r="1.35" fill="#000"/>
<line x1="337.50" y1="210.50" x2="351.10" y2="210.50" stroke="#000" stroke-width="0.9"/>
<circle cx="363.60" cy="176.30" r="1.35" fill="#000"/>
<circle cx="367.60" cy="176.30" r="1.35" fill="#000"/>
<circle cx="365.90" cy="189.80" r="1.35" fill="#000"/>
<line x1="359.20" y1="180.50" x2="372.80" y2="180.50" stroke="#000" stroke-width="0.9"/>
<line x1="366.50" y1="173.70" x2="366.50" y2="180.65" stroke="#000" stroke-width="0.8"/>
<line x1="363.00" y1="173.50" x2="369.00" y2="173.50" stroke="#000" stroke-width="0.9"/>
<polyline points="299.50,157.50 299.50,154.50 365.50,154.50 365.50,157.50" fill="none" stroke="#767676" stroke-width="0.85"/>
<text x="328.50" y="155.90" font-size="5.4" font-weight="bold" text-anchor="middle" fill="#3a3a3a">**</text>
<polyline points="342.50,162.50 342.50,160.50 365.50,160.50 365.50,162.50" fill="none" stroke="#767676" stroke-width="0.85"/>
<text x="354.00" y="161.10" font-size="5.4" font-weight="bold" text-anchor="middle" fill="#3a3a3a">**</text>
<polyline points="322.50,167.50 322.50,164.50 365.50,164.50 365.50,167.50" fill="none" stroke="#767676" stroke-width="0.85"/>
<line x1="322.50" y1="164.60" x2="322.50" y2="176.30" stroke="#767676" stroke-width="0.85"/>
<polyline points="299.50,176.50 299.50,174.50 345.50,174.50 345.50,176.50" fill="none" stroke="#767676" stroke-width="0.85"/>
<text x="322.30" y="173.20" font-size="5.2" font-weight="bold" text-anchor="middle" fill="#3a3a3a">ns</text>
<rect x="432.70" y="223.00" width="15.00" height="9.50" fill="#050505"/>
<line x1="440.50" y1="221.30" x2="440.50" y2="223.00" stroke="#000" stroke-width="0.8"/>
<line x1="436.70" y1="221.50" x2="443.70" y2="221.50" stroke="#000" stroke-width="0.9"/>
<rect x="454.50" y="204.90" width="15.00" height="27.60" fill="#b9b9b9"/>
<line x1="462.50" y1="199.70" x2="462.50" y2="204.90" stroke="#000" stroke-width="0.8"/>
<line x1="458.50" y1="199.50" x2="465.50" y2="199.50" stroke="#000" stroke-width="0.9"/>
<rect x="476.30" y="213.20" width="15.00" height="19.30" fill="#959595"/>
<line x1="483.50" y1="206.20" x2="483.50" y2="213.20" stroke="#000" stroke-width="0.8"/>
<line x1="480.30" y1="206.50" x2="487.30" y2="206.50" stroke="#000" stroke-width="0.9"/>
<rect x="498.10" y="184.10" width="15.00" height="48.40" fill="#e2e2e2"/>
<line x1="505.50" y1="175.80" x2="505.50" y2="184.10" stroke="#000" stroke-width="0.8"/>
<line x1="502.10" y1="175.50" x2="509.10" y2="175.50" stroke="#000" stroke-width="0.9"/>
<line x1="425.50" y1="169.20" x2="425.50" y2="232.95" stroke="#000" stroke-width="0.9"/>
<line x1="423.20" y1="232.50" x2="425.40" y2="232.50" stroke="#000" stroke-width="0.8"/>
<text x="422.60" y="234.10" font-size="4.6" font-weight="bold" text-anchor="end" fill="#222" stroke="#222" stroke-width="0.2">0</text>
<line x1="423.20" y1="216.50" x2="425.40" y2="216.50" stroke="#000" stroke-width="0.8"/>
<text x="422.60" y="218.38" font-size="4.6" font-weight="bold" text-anchor="end" fill="#222" stroke="#222" stroke-width="0.2">10,00,000</text>
<line x1="423.20" y1="201.50" x2="425.40" y2="201.50" stroke="#000" stroke-width="0.8"/>
<text x="422.60" y="202.65" font-size="4.6" font-weight="bold" text-anchor="end" fill="#222" stroke="#222" stroke-width="0.2">20,00,000</text>
<line x1="423.20" y1="185.50" x2="425.40" y2="185.50" stroke="#000" stroke-width="0.8"/>
<text x="422.60" y="186.92" font-size="4.6" font-weight="bold" text-anchor="end" fill="#222" stroke="#222" stroke-width="0.2">30,00,000</text>
<line x1="423.20" y1="169.50" x2="425.40" y2="169.50" stroke="#000" stroke-width="0.8"/>
<text x="422.60" y="171.20" font-size="4.6" font-weight="bold" text-anchor="end" fill="#222" stroke="#222" stroke-width="0.2">40,00,000</text>
<line x1="424.95" y1="232.50" x2="517.50" y2="232.50" stroke="#000" stroke-width="0.9"/>
<line x1="440.50" y1="232.50" x2="440.50" y2="234.50" stroke="#000" stroke-width="0.8"/>
<line x1="462.50" y1="232.50" x2="462.50" y2="234.50" stroke="#000" stroke-width="0.8"/>
<line x1="483.50" y1="232.50" x2="483.50" y2="234.50" stroke="#000" stroke-width="0.8"/>
<line x1="505.50" y1="232.50" x2="505.50" y2="234.50" stroke="#000" stroke-width="0.8"/>
<text x="441.40" y="237.80" font-size="4.85" font-weight="bold" text-anchor="end" fill="#222" transform="rotate(-45 441.40 237.80)" stroke="#222" stroke-width="0.2">Untreated</text>
<text x="463.20" y="237.80" font-size="4.85" font-weight="bold" text-anchor="end" fill="#222" transform="rotate(-45 463.20 237.80)" stroke="#222" stroke-width="0.2">PEGPH20 alone</text>
<text x="485.00" y="237.80" font-size="4.85" font-weight="bold" text-anchor="end" fill="#222" transform="rotate(-45 485.00 237.80)" stroke="#222" stroke-width="0.2">Cy/GVAX</text>
<text x="506.80" y="237.80" font-size="4.85" font-weight="bold" text-anchor="end" fill="#222" transform="rotate(-45 506.80 237.80)" stroke="#222" stroke-width="0.2">PEGPH20 + Cy/GVAX</text>
<text x="398.50" y="200.90" font-size="5.15" font-weight="bold" text-anchor="middle" fill="#222" stroke="#222" stroke-width="0.2" transform="rotate(-90 398.50 200.90)">Total number CD4<tspan font-size="3.60" dy="-1.80">+</tspan><tspan dy="1.80"> TILs</tspan></text>
<polyline points="438.50,163.50 438.50,161.50 504.50,161.50 504.50,163.50" fill="none" stroke="#767676" stroke-width="0.85"/>
<text x="466.80" y="162.20" font-size="5.4" font-weight="bold" text-anchor="middle" fill="#3a3a3a">**</text>
<polyline points="481.50,168.50 481.50,165.50 504.50,165.50 504.50,168.50" fill="none" stroke="#767676" stroke-width="0.85"/>
<text x="493.00" y="166.60" font-size="5.4" font-weight="bold" text-anchor="middle" fill="#3a3a3a">**</text>
<polyline points="461.50,172.50 461.50,170.50 504.50,170.50 504.50,172.50" fill="none" stroke="#767676" stroke-width="0.85"/>
<line x1="461.50" y1="170.40" x2="461.50" y2="183.00" stroke="#767676" stroke-width="0.85"/>
<polyline points="438.50,181.50 438.50,179.50 484.50,179.50 484.50,181.50" fill="none" stroke="#767676" stroke-width="0.85"/>
<text x="461.20" y="178.20" font-size="5.2" font-weight="bold" text-anchor="middle" fill="#3a3a3a">ns</text>
<line x1="37.50" y1="297.60" x2="37.50" y2="374.20" stroke="#000" stroke-width="1.0"/>
<line x1="35.10" y1="373.50" x2="37.50" y2="373.50" stroke="#000" stroke-width="1.0"/>
<text x="34.50" y="375.65" font-size="5.4" font-weight="bold" text-anchor="end" fill="#111" stroke="#222" stroke-width="0.2">0</text>
<line x1="35.10" y1="339.50" x2="37.50" y2="339.50" stroke="#000" stroke-width="1.0"/>
<text x="34.50" y="341.07" font-size="5.4" font-weight="bold" text-anchor="end" fill="#111" stroke="#222" stroke-width="0.2">50</text>
<line x1="35.10" y1="304.50" x2="37.50" y2="304.50" stroke="#000" stroke-width="1.0"/>
<text x="34.50" y="306.50" font-size="5.4" font-weight="bold" text-anchor="end" fill="#111" stroke="#222" stroke-width="0.2">100</text>
<line x1="37.05" y1="373.50" x2="48.40" y2="373.50" stroke="#000" stroke-width="1.0"/>
<line x1="37.50" y1="373.75" x2="37.50" y2="375.95" stroke="#000" stroke-width="1.0"/>
<line x1="48.50" y1="371.75" x2="48.50" y2="375.75" stroke="#000" stroke-width="1.0"/>
<line x1="54.50" y1="371.75" x2="54.50" y2="375.95" stroke="#000" stroke-width="1.0"/>
<line x1="54.80" y1="373.50" x2="157.88" y2="373.50" stroke="#000" stroke-width="1.0"/>
<text x="37.50" y="381.95" font-size="5.4" font-weight="bold" text-anchor="middle" fill="#111" stroke="#222" stroke-width="0.2">0</text>
<line x1="54.50" y1="373.75" x2="54.50" y2="375.95" stroke="#000" stroke-width="1.0"/>
<text x="54.80" y="381.95" font-size="5.4" font-weight="bold" text-anchor="middle" fill="#111" stroke="#222" stroke-width="0.2">20</text>
<line x1="75.50" y1="373.75" x2="75.50" y2="375.95" stroke="#000" stroke-width="1.0"/>
<text x="75.41" y="381.95" font-size="5.4" font-weight="bold" text-anchor="middle" fill="#111" stroke="#222" stroke-width="0.2">25</text>
<line x1="96.50" y1="373.75" x2="96.50" y2="375.95" stroke="#000" stroke-width="1.0"/>
<text x="96.03" y="381.95" font-size="5.4" font-weight="bold" text-anchor="middle" fill="#111" stroke="#222" stroke-width="0.2">30</text>
<line x1="116.50" y1="373.75" x2="116.50" y2="375.95" stroke="#000" stroke-width="1.0"/>
<text x="116.65" y="381.95" font-size="5.4" font-weight="bold" text-anchor="middle" fill="#111" stroke="#222" stroke-width="0.2">35</text>
<line x1="137.50" y1="373.75" x2="137.50" y2="375.95" stroke="#000" stroke-width="1.0"/>
<text x="137.26" y="381.95" font-size="5.4" font-weight="bold" text-anchor="middle" fill="#111" stroke="#222" stroke-width="0.2">40</text>
<line x1="157.50" y1="373.75" x2="157.50" y2="375.95" stroke="#000" stroke-width="1.0"/>
<text x="157.88" y="381.95" font-size="5.4" font-weight="bold" text-anchor="middle" fill="#111" stroke="#222" stroke-width="0.2">45</text>
<line x1="37.50" y1="304.50" x2="48.40" y2="304.50" stroke="#000" stroke-width="1.0"/>
<text x="98.00" y="390.95" font-size="6.2" font-weight="bold" text-anchor="middle" fill="#111" stroke="#222" stroke-width="0.2">Days</text>
<text x="20.90" y="335.70" font-size="6.0" font-weight="bold" text-anchor="middle" fill="#111" stroke="#222" stroke-width="0.2" transform="rotate(-90 20.90 335.70)">Percent survival</text>
<polyline points="54.50,304.50 58.50,304.50 58.50,307.50 72.50,307.50 72.50,312.50 75.50,312.50 75.50,320.50 79.50,320.50 79.50,328.50 83.50,328.50 83.50,338.50 88.50,338.50 88.50,342.50 90.50,342.50 90.50,350.50 93.50,350.50 93.50,353.50 98.50,353.50 98.50,355.50 103.50,355.50 103.50,358.50 108.50,358.50 108.50,361.50 114.50,361.50 114.50,366.50 119.50,366.50 119.50,370.50 121.50,370.50 121.50,373.50" fill="none" stroke="#f3e6b8" stroke-width="0.85"/>
<circle cx="58.92" cy="307.37" r="0.9" fill="#f3e6b8"/>
<circle cx="72.53" cy="312.90" r="0.9" fill="#f3e6b8"/>
<circle cx="75.83" cy="320.50" r="0.9" fill="#f3e6b8"/>
<circle cx="79.54" cy="328.11" r="0.9" fill="#f3e6b8"/>
<circle cx="83.66" cy="338.48" r="0.9" fill="#f3e6b8"/>
<circle cx="88.61" cy="342.63" r="0.9" fill="#f3e6b8"/>
<circle cx="90.26" cy="350.24" r="0.9" fill="#f3e6b8"/>
<circle cx="93.97" cy="353.00" r="0.9" fill="#f3e6b8"/>
<circle cx="98.92" cy="355.08" r="0.9" fill="#f3e6b8"/>
<circle cx="103.04" cy="358.54" r="0.9" fill="#f3e6b8"/>
<circle cx="108.40" cy="361.99" r="0.9" fill="#f3e6b8"/>
<circle cx="114.58" cy="366.83" r="0.9" fill="#f3e6b8"/>
<circle cx="119.94" cy="370.29" r="0.9" fill="#f3e6b8"/>
<polyline points="54.50,304.50 58.50,304.50 58.50,310.50 67.50,310.50 67.50,314.50 71.50,314.50 71.50,323.50 75.50,323.50 75.50,328.50 78.50,328.50 78.50,338.50 83.50,338.50 83.50,348.50 87.50,348.50 87.50,353.50 98.50,353.50 98.50,355.50 103.50,355.50 103.50,358.50 107.50,358.50 107.50,361.50 116.50,361.50 116.50,370.50 119.50,370.50 119.50,373.50" fill="none" stroke="#83c766" stroke-width="0.9"/>
<rect x="57.82" y="309.72" width="2.20" height="2.20" fill="#8ccf70"/>
<rect x="66.07" y="313.87" width="2.20" height="2.20" fill="#8ccf70"/>
<rect x="70.19" y="322.86" width="2.20" height="2.20" fill="#8ccf70"/>
<rect x="74.31" y="327.70" width="2.20" height="2.20" fill="#8ccf70"/>
<rect x="77.61" y="337.38" width="2.20" height="2.20" fill="#8ccf70"/>
<rect x="82.56" y="347.06" width="2.20" height="2.20" fill="#8ccf70"/>
<rect x="86.68" y="352.60" width="2.20" height="2.20" fill="#8ccf70"/>
<rect x="97.82" y="353.98" width="2.20" height="2.20" fill="#8ccf70"/>
<rect x="101.94" y="357.78" width="2.20" height="2.20" fill="#8ccf70"/>
<rect x="106.89" y="360.89" width="2.20" height="2.20" fill="#8ccf70"/>
<rect x="115.13" y="369.19" width="2.20" height="2.20" fill="#8ccf70"/>
<polyline points="54.50,304.50 58.50,304.50 58.50,311.50 67.50,311.50 67.50,313.50 71.50,313.50 71.50,319.50 75.50,319.50 75.50,326.50 79.50,326.50 79.50,332.50 83.50,332.50 83.50,344.50 87.50,344.50 87.50,353.50 96.50,353.50 96.50,358.50 100.50,358.50 100.50,364.50 107.50,364.50 107.50,367.50 116.50,367.50 116.50,373.50" fill="none" stroke="#000" stroke-width="1.0"/>
<circle cx="58.51" cy="311.51" r="1.35" fill="#000"/>
<circle cx="67.17" cy="313.59" r="1.35" fill="#000"/>
<circle cx="71.29" cy="319.81" r="1.35" fill="#000"/>
<circle cx="75.41" cy="326.04" r="1.35" fill="#000"/>
<circle cx="79.13" cy="332.26" r="1.35" fill="#000"/>
<circle cx="83.66" cy="344.02" r="1.35" fill="#000"/>
<circle cx="87.78" cy="353.00" r="1.35" fill="#000"/>
<circle cx="96.03" cy="358.54" r="1.35" fill="#000"/>
<circle cx="100.15" cy="364.76" r="1.35" fill="#000"/>
<circle cx="107.99" cy="367.87" r="1.35" fill="#000"/>
<polyline points="54.50,304.50 75.50,304.50 75.50,311.50 79.50,311.50 79.50,318.50 87.50,318.50 87.50,321.50 91.50,321.50 91.50,324.50 96.50,324.50 96.50,332.50 103.50,332.50 103.50,347.50 107.50,347.50 107.50,349.50 111.50,349.50 111.50,353.50 114.50,353.50 114.50,355.50 117.50,355.50 117.50,361.50 120.50,361.50 120.50,364.50 124.50,364.50 124.50,370.50 145.50,370.50 145.50,373.50" fill="none" stroke="#d8363a" stroke-width="1.15"/>
<line x1="150.60" y1="293.50" x2="160.20" y2="293.50" stroke="#cf3036" stroke-width="1.3"/>
<circle cx="155.40" cy="293.80" r="1.35" fill="#cf3036"/>
<line x1="150.60" y1="305.50" x2="160.20" y2="305.50" stroke="#62aa45" stroke-width="1.3"/>
<rect x="154.00" y="303.90" width="2.8" height="2.8" fill="#62aa45"/>
<line x1="150.60" y1="316.50" x2="160.20" y2="316.50" stroke="#efe1a6" stroke-width="1.3"/>
<circle cx="155.40" cy="316.80" r="1.35" fill="#efe1a6"/>
<line x1="150.60" y1="327.50" x2="160.20" y2="327.50" stroke="#000" stroke-width="1.3"/>
<circle cx="155.40" cy="327.70" r="1.35" fill="#000"/>
<text x="163.80" y="296.00" font-size="6.15" font-weight="normal" text-anchor="start" fill="#1a1a1a" stroke="#1a1a1a" stroke-width="0.15">PEGPH20 + Cy/GVAX</text>
<text x="163.80" y="307.70" font-size="6.15" font-weight="normal" text-anchor="start" fill="#1a1a1a" stroke="#1a1a1a" stroke-width="0.15">PEGPH20 alone</text>
<text x="163.80" y="319.40" font-size="6.15" font-weight="normal" text-anchor="start" fill="#1a1a1a" stroke="#1a1a1a" stroke-width="0.15">Cy/GVAX alone</text>
<text x="163.80" y="330.10" font-size="6.15" font-weight="normal" text-anchor="start" fill="#1a1a1a" stroke="#1a1a1a" stroke-width="0.15">Untreated</text>
<polyline points="148.50,293.50 144.50,293.50 144.50,304.50 148.50,304.50" fill="none" stroke="#767676" stroke-width="0.75"/>
<polyline points="143.50,293.50 138.50,293.50 138.50,317.50 143.50,317.50" fill="none" stroke="#767676" stroke-width="0.75"/>
<polyline points="136.50,293.50 132.50,293.50 132.50,328.50 136.50,328.50" fill="none" stroke="#767676" stroke-width="0.75"/>
<text x="142.30" y="302.40" font-size="5.6" font-weight="bold" text-anchor="middle" fill="#444">*</text>
<text x="136.70" y="309.10" font-size="5.6" font-weight="bold" text-anchor="middle" fill="#444">*</text>
<text x="128.90" y="316.70" font-size="5.6" font-weight="bold" text-anchor="middle" fill="#444">*</text>
<polyline points="212.50,304.50 213.50,304.50 213.50,330.50 212.50,330.50" fill="none" stroke="#444" stroke-width="0.75"/>
<line x1="211.60" y1="318.50" x2="214.20" y2="318.50" stroke="#444" stroke-width="0.8"/>
<text x="217.60" y="320.20" font-size="5.6" font-weight="normal" text-anchor="start" fill="#1a1a1a" stroke="#1a1a1a" stroke-width="0.15">ns</text>
<line x1="303.50" y1="297.20" x2="303.50" y2="373.95" stroke="#000" stroke-width="1.0"/>
<line x1="300.70" y1="373.50" x2="303.10" y2="373.50" stroke="#000" stroke-width="1.0"/>
<text x="300.10" y="375.40" font-size="5.4" font-weight="bold" text-anchor="end" fill="#111" stroke="#222" stroke-width="0.2">0</text>
<line x1="300.70" y1="338.50" x2="303.10" y2="338.50" stroke="#000" stroke-width="1.0"/>
<text x="300.10" y="340.75" font-size="5.4" font-weight="bold" text-anchor="end" fill="#111" stroke="#222" stroke-width="0.2">50</text>
<line x1="300.70" y1="304.50" x2="303.10" y2="304.50" stroke="#000" stroke-width="1.0"/>
<text x="300.10" y="306.10" font-size="5.4" font-weight="bold" text-anchor="end" fill="#111" stroke="#222" stroke-width="0.2">100</text>
<line x1="302.65" y1="373.50" x2="314.10" y2="373.50" stroke="#000" stroke-width="1.0"/>
<line x1="303.50" y1="373.50" x2="303.50" y2="375.70" stroke="#000" stroke-width="1.0"/>
<line x1="314.50" y1="371.50" x2="314.50" y2="375.50" stroke="#000" stroke-width="1.0"/>
<line x1="320.50" y1="371.50" x2="320.50" y2="375.70" stroke="#000" stroke-width="1.0"/>
<line x1="320.60" y1="373.50" x2="419.35" y2="373.50" stroke="#000" stroke-width="1.0"/>
<text x="303.10" y="381.70" font-size="5.4" font-weight="bold" text-anchor="middle" fill="#111" stroke="#222" stroke-width="0.2">0</text>
<line x1="320.50" y1="373.50" x2="320.50" y2="375.70" stroke="#000" stroke-width="1.0"/>
<text x="320.60" y="381.70" font-size="5.4" font-weight="bold" text-anchor="middle" fill="#111" stroke="#222" stroke-width="0.2">20</text>
<line x1="340.50" y1="373.50" x2="340.50" y2="375.70" stroke="#000" stroke-width="1.0"/>
<text x="340.35" y="381.70" font-size="5.4" font-weight="bold" text-anchor="middle" fill="#111" stroke="#222" stroke-width="0.2">25</text>
<line x1="360.50" y1="373.50" x2="360.50" y2="375.70" stroke="#000" stroke-width="1.0"/>
<text x="360.10" y="381.70" font-size="5.4" font-weight="bold" text-anchor="middle" fill="#111" stroke="#222" stroke-width="0.2">30</text>
<line x1="379.50" y1="373.50" x2="379.50" y2="375.70" stroke="#000" stroke-width="1.0"/>
<text x="379.85" y="381.70" font-size="5.4" font-weight="bold" text-anchor="middle" fill="#111" stroke="#222" stroke-width="0.2">35</text>
<line x1="399.50" y1="373.50" x2="399.50" y2="375.70" stroke="#000" stroke-width="1.0"/>
<text x="399.60" y="381.70" font-size="5.4" font-weight="bold" text-anchor="middle" fill="#111" stroke="#222" stroke-width="0.2">40</text>
<line x1="419.50" y1="373.50" x2="419.50" y2="375.70" stroke="#000" stroke-width="1.0"/>
<text x="419.35" y="381.70" font-size="5.4" font-weight="bold" text-anchor="middle" fill="#111" stroke="#222" stroke-width="0.2">45</text>
<line x1="303.10" y1="304.50" x2="314.10" y2="304.50" stroke="#000" stroke-width="1.0"/>
<text x="362.00" y="390.70" font-size="6.2" font-weight="bold" text-anchor="middle" fill="#111" stroke="#222" stroke-width="0.2">Days</text>
<text x="285.00" y="337.50" font-size="6.4" font-weight="bold" text-anchor="middle" fill="#111" stroke="#222" stroke-width="0.2" transform="rotate(-90 285.00 337.50)">Percent survival</text>
<polyline points="320.50,304.50 324.50,304.50 324.50,311.50 332.50,311.50 332.50,318.50 340.50,318.50 340.50,324.50 344.50,324.50 344.50,331.50 348.50,331.50 348.50,338.50 350.50,338.50 350.50,345.50 352.50,345.50 352.50,352.50 360.50,352.50 360.50,359.50 361.50,359.50 361.50,366.50 368.50,366.50 368.50,373.50" fill="none" stroke="#4a68ad" stroke-width="0.95"/>
<circle cx="324.55" cy="311.13" r="1.0" fill="#4a68ad"/>
<circle cx="332.45" cy="318.06" r="1.0" fill="#4a68ad"/>
<circle cx="340.35" cy="324.99" r="1.0" fill="#4a68ad"/>
<circle cx="344.30" cy="331.92" r="1.0" fill="#4a68ad"/>
<circle cx="348.25" cy="338.85" r="1.0" fill="#4a68ad"/>
<circle cx="350.23" cy="345.78" r="1.0" fill="#4a68ad"/>
<circle cx="352.20" cy="352.71" r="1.0" fill="#4a68ad"/>
<circle cx="360.10" cy="359.64" r="1.0" fill="#4a68ad"/>
<circle cx="361.29" cy="366.57" r="1.0" fill="#4a68ad"/>
<polyline points="320.50,304.50 324.50,304.50 324.50,314.50 332.50,314.50 332.50,320.50 340.50,320.50 340.50,325.50 344.50,325.50 344.50,336.50 348.50,336.50 348.50,352.50 352.50,352.50 352.50,357.50 360.50,357.50 360.50,362.50 362.50,362.50 362.50,368.50 364.50,368.50 364.50,373.50" fill="none" stroke="#000" stroke-width="1.0"/>
<circle cx="324.55" cy="314.87" r="1.35" fill="#000"/>
<circle cx="332.45" cy="320.14" r="1.35" fill="#000"/>
<circle cx="340.35" cy="325.54" r="1.35" fill="#000"/>
<circle cx="344.30" cy="336.22" r="1.35" fill="#000"/>
<circle cx="348.25" cy="352.16" r="1.35" fill="#000"/>
<circle cx="352.20" cy="357.56" r="1.35" fill="#000"/>
<circle cx="360.10" cy="362.83" r="1.35" fill="#000"/>
<circle cx="362.08" cy="368.16" r="1.35" fill="#000"/>
<polyline points="320.50,304.50 340.50,304.50 340.50,311.50 352.50,311.50 352.50,318.50 360.50,318.50 360.50,331.50 375.50,331.50 375.50,338.50 379.50,338.50 379.50,345.50 383.50,345.50 383.50,352.50 387.50,352.50 387.50,366.50 407.50,366.50 407.50,373.50" fill="none" stroke="#d8363a" stroke-width="1.15"/>
<circle cx="340.35" cy="311.13" r="1.0" fill="#d8363a"/>
<circle cx="352.20" cy="318.06" r="1.0" fill="#d8363a"/>
<circle cx="360.10" cy="331.92" r="1.0" fill="#d8363a"/>
<circle cx="375.90" cy="338.85" r="1.0" fill="#d8363a"/>
<circle cx="379.85" cy="345.78" r="1.0" fill="#d8363a"/>
<circle cx="383.80" cy="352.71" r="1.0" fill="#d8363a"/>
<circle cx="387.75" cy="366.57" r="1.0" fill="#d8363a"/>
<line x1="374.80" y1="302.50" x2="384.00" y2="302.50" stroke="#000" stroke-width="1.1"/>
<circle cx="379.40" cy="302.30" r="1.2" fill="#000"/>
<text x="387.90" y="304.50" font-size="6.15" font-weight="normal" text-anchor="start" fill="#1a1a1a" stroke="#1a1a1a" stroke-width="0.15">Untreated</text>
<line x1="374.80" y1="312.50" x2="384.00" y2="312.50" stroke="#3f5fa8" stroke-width="1.1"/>
<circle cx="379.40" cy="313.00" r="1.2" fill="#3f5fa8"/>
<text x="387.90" y="315.20" font-size="6.15" font-weight="normal" text-anchor="start" fill="#1a1a1a" stroke="#1a1a1a" stroke-width="0.15">PEGPH20 + Cy/GVAX + anti-CD8</text>
<line x1="374.80" y1="324.50" x2="384.00" y2="324.50" stroke="#d9261c" stroke-width="1.1"/>
<circle cx="379.40" cy="324.50" r="1.2" fill="#d9261c"/>
<text x="387.90" y="326.70" font-size="6.15" font-weight="normal" text-anchor="start" fill="#1a1a1a" stroke="#1a1a1a" stroke-width="0.15">PEGPH20 + Cy/GVAX</text>
<polyline points="489.50,312.50 491.50,312.50 491.50,326.50 489.50,326.50" fill="none" stroke="#444" stroke-width="0.75"/>
<line x1="491.30" y1="319.50" x2="493.00" y2="319.50" stroke="#444" stroke-width="0.75"/>
<text x="493.00" y="322.60" font-size="5.6" font-weight="bold" text-anchor="start" fill="#222">**</text>
</svg>
</body></html>
